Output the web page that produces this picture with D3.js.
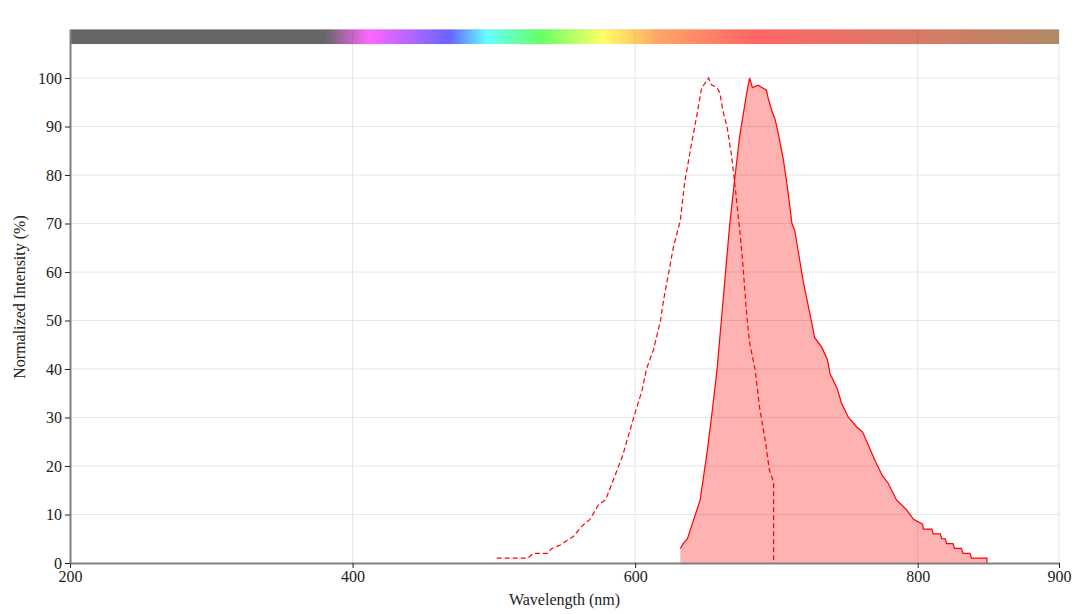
<!DOCTYPE html>
<html>
<head>
<meta charset="utf-8">
<script src="https://cdn.jsdelivr.net/npm/d3@7"></script>
<style>
  html, body { margin: 0; padding: 0; background: #fff; }
  svg { display: block; font-family: "Liberation Serif", "Times New Roman", serif; }
</style>
</head>
<body>
<svg id="chart" width="1080" height="614"></svg>
<script>
// ---- data ----
const emissionWavelength = [632,634,637,646,651,654,658,661,667,670,674,679,681,683,687,690,693,694,697,699,701,705,708,711,713,715,719,725,727,732,736,738,743,746,751,757,761,764,770,775,779,785,792,797,803.5,804,810,811,816,817,819.5,820.5,825,826,831,832,837,838,849,849];
const emissionValue = [3,4,5,13,23,30,40,50,70,78,88,97,100,98,98.5,98,97.5,96,93,91.5,89,83,77,70,68.5,65,58,49.5,46.5,44.5,42,39,36,33,30,28,27,25,21,18,16.5,13,11,9,8,7,7,6,6,5,5,4,4,3,3,2,2,1,1,0];
const excitationWavelength = [502,524,528,538,541,547,552,556,563,568,574,579,584,591,595,600,605,608,613,618,620,627,632,635,640,644,647,651,652,654,658,660,662,665,668,670,672,674,676,679,681,685,688,692,695,698,698];
const excitationValue = [1,1,2,2,3,3.7,4.7,5.4,7.8,9,12,13,16.7,22,26,31,35.7,40,44,50,54,65,70.7,78.4,86.6,92.8,97.9,99.6,100,98.6,98,96.9,93.4,90,84.5,79.6,74.2,68.7,62.5,51,45.4,39.8,32.2,25.4,19.2,16.7,0];
const xTicks = [200,400,600,800,900];
const yTicks = [0,10,20,30,40,50,60,70,80,90,100];
const spectrumStops = [
  {nm:200, c:"#000000"},{nm:380, c:"#000000"},{nm:412, c:"#ff00ff"},{nm:469, c:"#0000ff"},
  {nm:495, c:"#00ffff"},{nm:533, c:"#00ff00"},{nm:577, c:"#ffff00"},{nm:617, c:"#ff6600"},
  {nm:683, c:"#ff0000"},{nm:800, c:"#be2100"},{nm:900, c:"#7b3c00"}
];

// ---- layout ----
const svg = d3.select("#chart");
const mLeft = 70, mRight = 1059, mBottom = 563, mTop = 29.5;
const x = d3.scaleLinear().domain([200, 900]).range([mLeft, mRight]);
const y = d3.scaleLinear().domain([0, 110]).range([mBottom, mTop]);

// grid
const grid = svg.append("g");
grid.selectAll("line.h").data(yTicks.filter(d => d > 0).concat([110])).enter().append("line")
  .attr("x1", mLeft).attr("x2", mRight).attr("y1", d => y(d)).attr("y2", d => y(d))
  .attr("stroke", "#e6e6e6").attr("stroke-width", 1);
grid.selectAll("line.v").data(xTicks.filter(d => d > 200)).enter().append("line")
  .attr("x1", d => x(d)).attr("x2", d => x(d)).attr("y1", mTop).attr("y2", mBottom)
  .attr("stroke", "#e6e6e6").attr("stroke-width", 1);

// spectrum bar
const defs = svg.append("defs");
const grad = defs.append("linearGradient").attr("id", "spec")
  .attr("gradientUnits", "userSpaceOnUse")
  .attr("x1", x(200)).attr("x2", x(900)).attr("y1", 0).attr("y2", 0);
grad.selectAll("stop").data(spectrumStops).enter().append("stop")
  .attr("offset", d => (d.nm - 200) / 700)
  .attr("stop-color", d => d.c);
svg.append("rect")
  .attr("x", x(200)).attr("y", y(110))
  .attr("width", x(900) - x(200)).attr("height", y(107) - y(110))
  .attr("fill", "url(#spec)").attr("opacity", 0.6);

// emission area + line
const em = emissionWavelength.map((w, i) => [w, emissionValue[i]]);
const ex = excitationWavelength.map((w, i) => [w, excitationValue[i]]);
svg.append("path").datum(em)
  .attr("d", d3.area().x(d => x(d[0])).y0(y(0)).y1(d => y(d[1])))
  .attr("fill", "rgba(255,0,0,0.3)");
svg.append("path").datum(em)
  .attr("d", d3.line().x(d => x(d[0])).y(d => y(d[1])))
  .attr("fill", "none").attr("stroke", "#ff0000").attr("stroke-width", 1.2);
svg.append("path").datum(ex)
  .attr("d", d3.line().x(d => x(d[0])).y(d => y(d[1])))
  .attr("fill", "none").attr("stroke", "#ff0000").attr("stroke-width", 1.2)
  .attr("stroke-dasharray", "5,3");

// axes
const xAxis = svg.append("g").attr("transform", `translate(0,${mBottom})`)
  .call(d3.axisBottom(x).tickValues(xTicks).tickSize(5).tickSizeOuter(0));
const yAxis = svg.append("g").attr("transform", `translate(${mLeft},0)`)
  .call(d3.axisLeft(y).tickValues(yTicks).tickSize(5).tickSizeOuter(0));
[xAxis, yAxis].forEach(g => {
  g.attr("font-family", null).attr("font-size", null);
  g.select(".domain").attr("stroke", "#808080").attr("stroke-width", 2);
  g.selectAll(".tick line").attr("stroke", "#222");
  g.selectAll(".tick text").attr("fill", "#222").style("font-size", "16px");
});

// labels
svg.append("text").attr("x", (mLeft + mRight) / 2).attr("y", 605)
  .attr("text-anchor", "middle").attr("fill", "#222").style("font-size", "16px")
  .text("Wavelength (nm)");
svg.append("text").attr("transform", "translate(25,297) rotate(-90)")
  .attr("text-anchor", "middle").attr("fill", "#222").style("font-size", "16px")
  .text("Normalized Intensity (%)");
</script>
</body>
</html>
